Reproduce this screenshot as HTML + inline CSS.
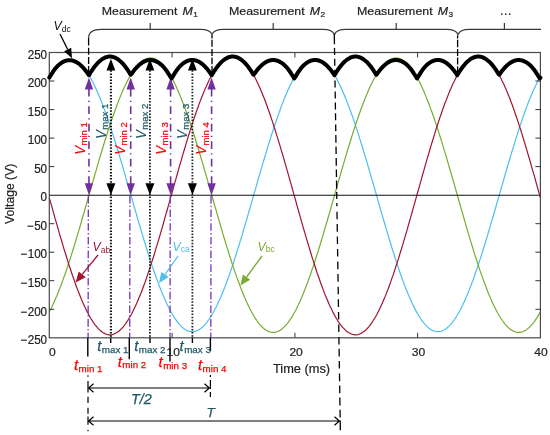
<!DOCTYPE html>
<html lang="en">
<head>
<meta charset="utf-8">
<title>Three-phase voltage measurement</title>
<style>
html,body{margin:0;padding:0;background:#fff;}
body{width:550px;height:435px;overflow:hidden;}
svg{display:block;font-family:"Liberation Sans", Arial, Helvetica, sans-serif;}
.ax{fill:#222;stroke:#222;stroke-width:0.2px;}
.red{fill:#ff0000;stroke:#ff0000;stroke-width:0.25px;}
.teal{fill:#215968;stroke:#215968;stroke-width:0.25px;}
</style>
</head>
<body>
<svg width="550" height="435" viewBox="0 0 550 435">
<rect x="0" y="0" width="550" height="435" fill="#ffffff"/>
<defs><clipPath id="pc"><rect x="46.8" y="49.5" width="496.1" height="291.3"/></clipPath></defs>
<g fill="none" stroke-width="1.2" stroke-linejoin="round">
<path d="M49.3,77.0 L50.5,75.0 L51.8,73.1 L53.0,71.2 L54.2,69.5 L55.4,67.9 L56.7,66.4 L57.9,65.2 L59.1,64.0 L60.3,63.1 L61.6,62.2 L62.8,61.5 L64.0,60.9 L65.3,60.4 L66.5,60.0 L67.7,59.8 L68.9,59.6 L70.2,59.6 L71.4,59.8 L72.6,60.0 L73.9,60.4 L75.1,60.9 L76.3,61.5 L77.5,62.2 L78.8,63.1 L80.0,64.1 L81.2,65.2 L82.4,66.4 L83.7,67.7 L84.9,69.1 L86.1,70.8 L87.4,72.6 L88.6,74.5 L89.8,76.6 L91.0,78.8 L92.3,81.1 L93.5,83.5 L94.7,86.0 L96.0,88.7 L97.2,91.4 L98.4,94.3 L99.6,97.2 L100.9,100.2 L102.1,103.4 L103.3,106.6 L104.5,109.9 L105.8,113.3 L107.0,116.8 L108.2,120.3 L109.5,123.9 L110.7,127.6 L111.9,131.4 L113.1,135.2 L114.4,139.1 L115.6,143.0 L116.8,147.0 L118.1,151.1 L119.3,155.1 L120.5,159.3 L121.7,163.4 L123.0,167.6 L124.2,171.8 L125.4,176.1 L126.6,180.3 L127.9,184.6 L129.1,188.9 L130.3,193.1 L131.6,197.4 L132.8,201.7 L134.0,206.0 L135.2,210.3 L136.5,214.5 L137.7,218.8 L138.9,223.0 L140.2,227.2 L141.4,231.3 L142.6,235.4 L143.8,239.5 L145.1,243.5 L146.3,247.5 L147.5,251.5 L148.7,255.3 L150.0,259.2 L151.2,262.9 L152.4,266.6 L153.7,270.2 L154.9,273.8 L156.1,277.2 L157.3,280.6 L158.6,283.9 L159.8,287.2 L161.0,290.3 L162.3,293.3 L163.5,296.2 L164.7,299.1 L165.9,301.8 L167.2,304.4 L168.4,306.9 L169.6,309.4 L170.8,311.6 L172.1,313.8 L173.3,315.9 L174.5,317.8 L175.8,319.7 L177.0,321.4 L178.2,322.9 L179.4,324.4 L180.7,325.7 L181.9,326.9 L183.1,328.0 L184.4,328.9 L185.6,329.7 L186.8,330.4 L188.0,330.9 L189.3,331.3 L190.5,331.5 L191.7,331.7 L192.9,331.7 L194.2,331.5 L195.4,331.3 L196.6,330.9 L197.9,330.3 L199.1,329.6 L200.3,328.8 L201.5,327.9 L202.8,326.8 L204.0,325.6 L205.2,324.3 L206.5,322.8 L207.7,321.2 L208.9,319.5 L210.1,317.7 L211.4,315.8 L212.6,313.7 L213.8,311.5 L215.0,309.2 L216.3,306.8 L217.5,304.3 L218.7,301.6 L220.0,298.9 L221.2,296.0 L222.4,293.1 L223.6,290.1 L224.9,286.9 L226.1,283.7 L227.3,280.4 L228.6,277.0 L229.8,273.5 L231.0,270.0 L232.2,266.4 L233.5,262.7 L234.7,258.9 L235.9,255.1 L237.1,251.2 L238.4,247.3 L239.6,243.3 L240.8,239.2 L242.1,235.2 L243.3,231.0 L244.5,226.9 L245.7,222.7 L247.0,218.5 L248.2,214.2 L249.4,210.0 L250.7,205.7 L251.9,201.4 L253.1,197.2 L254.3,192.9 L255.6,188.6 L256.8,184.3 L258.0,180.0 L259.2,175.8 L260.5,171.5 L261.7,167.3 L262.9,163.1 L264.2,159.0 L265.4,154.9 L266.6,150.8 L267.8,146.8 L269.1,142.8 L270.3,138.8 L271.5,135.0 L272.8,131.1 L274.0,127.4 L275.2,123.7 L276.4,120.1 L277.7,116.5 L278.9,113.1 L280.1,109.7 L281.3,106.4 L282.6,103.1 L283.8,100.0 L285.0,97.0 L286.3,94.1 L287.5,91.2 L288.7,88.5 L289.9,85.9 L291.2,83.4 L292.4,80.9 L293.6,78.7 L294.9,77.0 L296.1,75.0 L297.3,73.0 L298.5,71.1 L299.8,69.4 L301.0,67.8 L302.2,66.3 L303.4,65.0 L304.7,63.9 L305.9,62.9 L307.1,62.0 L308.4,61.3 L309.6,60.6 L310.8,60.2 L312.0,59.8 L313.3,59.5 L314.5,59.4 L315.7,59.4 L316.9,59.6 L318.2,59.8 L319.4,60.2 L320.6,60.7 L321.9,61.3 L323.1,62.1 L324.3,62.9 L325.5,63.9 L326.8,65.0 L328.0,66.2 L329.2,67.6 L330.5,69.1 L331.7,70.8 L332.9,72.6 L334.1,74.5 L335.4,76.6 L336.6,78.8 L337.8,81.1 L339.0,83.5 L340.3,86.0 L341.5,88.7 L342.7,91.4 L344.0,94.3 L345.2,97.2 L346.4,100.2 L347.6,103.4 L348.9,106.6 L350.1,109.9 L351.3,113.3 L352.6,116.8 L353.8,120.3 L355.0,123.9 L356.2,127.6 L357.5,131.4 L358.7,135.2 L359.9,139.1 L361.1,143.0 L362.4,147.0 L363.6,151.1 L364.8,155.1 L366.1,159.3 L367.3,163.4 L368.5,167.6 L369.7,171.8 L371.0,176.1 L372.2,180.3 L373.4,184.6 L374.7,188.9 L375.9,193.1 L377.1,197.4 L378.3,201.7 L379.6,206.0 L380.8,210.3 L382.0,214.5 L383.2,218.8 L384.5,223.0 L385.7,227.2 L386.9,231.3 L388.2,235.4 L389.4,239.5 L390.6,243.5 L391.8,247.5 L393.1,251.5 L394.3,255.3 L395.5,259.2 L396.8,262.9 L398.0,266.6 L399.2,270.2 L400.4,273.8 L401.7,277.2 L402.9,280.6 L404.1,283.9 L405.3,287.2 L406.6,290.3 L407.8,293.3 L409.0,296.2 L410.3,299.1 L411.5,301.8 L412.7,304.4 L413.9,306.9 L415.2,309.4 L416.4,311.6 L417.6,313.8 L418.9,315.9 L420.1,317.8 L421.3,319.7 L422.5,321.4 L423.8,322.9 L425.0,324.4 L426.2,325.7 L427.4,326.9 L428.7,328.0 L429.9,328.9 L431.1,329.7 L432.4,330.4 L433.6,330.9 L434.8,331.3 L436.0,331.5 L437.3,331.7 L438.5,331.7 L439.7,331.5 L441.0,331.3 L442.2,330.9 L443.4,330.3 L444.6,329.6 L445.9,328.8 L447.1,327.9 L448.3,326.8 L449.5,325.6 L450.8,324.3 L452.0,322.8 L453.2,321.2 L454.5,319.5 L455.7,317.7 L456.9,315.8 L458.1,313.7 L459.4,311.5 L460.6,309.2 L461.8,306.8 L463.1,304.3 L464.3,301.6 L465.5,298.9 L466.7,296.0 L468.0,293.1 L469.2,290.1 L470.4,286.9 L471.6,283.7 L472.9,280.4 L474.1,277.0 L475.3,273.5 L476.6,270.0 L477.8,266.4 L479.0,262.7 L480.2,258.9 L481.5,255.1 L482.7,251.2 L483.9,247.3 L485.2,243.3 L486.4,239.2 L487.6,235.2 L488.8,231.0 L490.1,226.9 L491.3,222.7 L492.5,218.5 L493.7,214.2 L495.0,210.0 L496.2,205.7 L497.4,201.4 L498.7,197.2 L499.9,192.9 L501.1,188.6 L502.3,184.3 L503.6,180.0 L504.8,175.8 L506.0,171.5 L507.3,167.3 L508.5,163.1 L509.7,159.0 L510.9,154.9 L512.2,150.8 L513.4,146.8 L514.6,142.8 L515.8,138.8 L517.1,135.0 L518.3,131.1 L519.5,127.4 L520.8,123.7 L522.0,120.1 L523.2,116.5 L524.4,113.1 L525.7,109.7 L526.9,106.4 L528.1,103.1 L529.4,100.0 L530.6,97.0 L531.8,94.1 L533.0,91.2 L534.3,88.5 L535.5,85.9 L536.7,83.4 L537.9,80.9 L539.2,78.7 L540.4,77.0" stroke="#4dbeee"/>
<path d="M49.3,311.8 L50.5,309.5 L51.8,307.0 L53.0,304.5 L54.2,301.8 L55.4,299.0 L56.7,296.2 L57.9,293.2 L59.1,290.1 L60.3,287.0 L61.6,283.7 L62.8,280.4 L64.0,277.0 L65.3,273.5 L66.5,269.9 L67.7,266.2 L68.9,262.5 L70.2,258.7 L71.4,254.9 L72.6,251.0 L73.9,247.0 L75.1,243.0 L76.3,238.9 L77.5,234.8 L78.8,230.7 L80.0,226.5 L81.2,222.3 L82.4,218.0 L83.7,213.8 L84.9,209.5 L86.1,205.2 L87.4,200.9 L88.6,196.6 L89.8,192.3 L91.0,188.0 L92.3,183.7 L93.5,179.4 L94.7,175.1 L96.0,170.8 L97.2,166.6 L98.4,162.4 L99.6,158.2 L100.9,154.1 L102.1,150.0 L103.3,146.0 L104.5,142.0 L105.8,138.0 L107.0,134.1 L108.2,130.3 L109.5,126.5 L110.7,122.8 L111.9,119.2 L113.1,115.7 L114.4,112.2 L115.6,108.8 L116.8,105.5 L118.1,102.3 L119.3,99.1 L120.5,96.1 L121.7,93.2 L123.0,90.3 L124.2,87.6 L125.4,85.0 L126.6,82.5 L127.9,80.1 L129.1,77.8 L130.3,75.6 L131.6,73.5 L132.8,71.6 L134.0,69.8 L135.2,68.1 L136.5,66.5 L137.7,65.1 L138.9,63.8 L140.2,62.6 L141.4,61.5 L142.6,60.6 L143.8,59.8 L145.1,59.2 L146.3,58.7 L147.5,58.3 L148.7,58.0 L150.0,57.9 L151.2,58.0 L152.4,58.1 L153.7,58.4 L154.9,58.8 L156.1,59.4 L157.3,60.1 L158.6,60.9 L159.8,61.9 L161.0,63.0 L162.3,64.2 L163.5,65.6 L164.7,67.0 L165.9,68.6 L167.2,70.4 L168.4,72.2 L169.6,74.2 L170.8,76.3 L172.1,78.5 L173.3,80.8 L174.5,83.3 L175.8,85.8 L177.0,88.5 L178.2,91.3 L179.4,94.1 L180.7,97.1 L181.9,100.2 L183.1,103.3 L184.4,106.6 L185.6,109.9 L186.8,113.3 L188.0,116.8 L189.3,120.4 L190.5,124.1 L191.7,127.8 L192.9,131.6 L194.2,135.4 L195.4,139.3 L196.6,143.3 L197.9,147.3 L199.1,151.4 L200.3,155.5 L201.5,159.6 L202.8,163.8 L204.0,168.0 L205.2,172.3 L206.5,176.5 L207.7,180.8 L208.9,185.1 L210.1,189.4 L211.4,193.7 L212.6,198.0 L213.8,202.3 L215.0,206.6 L216.3,210.9 L217.5,215.2 L218.7,219.5 L220.0,223.7 L221.2,227.9 L222.4,232.1 L223.6,236.2 L224.9,240.3 L226.1,244.3 L227.3,248.3 L228.6,252.3 L229.8,256.2 L231.0,260.0 L232.2,263.8 L233.5,267.5 L234.7,271.1 L235.9,274.6 L237.1,278.1 L238.4,281.5 L239.6,284.8 L240.8,288.0 L242.1,291.2 L243.3,294.2 L244.5,297.1 L245.7,300.0 L247.0,302.7 L248.2,305.3 L249.4,307.8 L250.7,310.2 L251.9,312.5 L253.1,314.7 L254.3,316.8 L255.6,318.7 L256.8,320.5 L258.0,322.2 L259.2,323.8 L260.5,325.2 L261.7,326.5 L262.9,327.7 L264.2,328.8 L265.4,329.7 L266.6,330.5 L267.8,331.1 L269.1,331.6 L270.3,332.0 L271.5,332.3 L272.8,332.4 L274.0,332.3 L275.2,332.2 L276.4,331.9 L277.7,331.5 L278.9,330.9 L280.1,330.2 L281.3,329.4 L282.6,328.4 L283.8,327.3 L285.0,326.1 L286.3,324.7 L287.5,323.3 L288.7,321.7 L289.9,319.9 L291.2,318.1 L292.4,316.1 L293.6,314.0 L294.9,311.8 L296.1,309.5 L297.3,307.0 L298.5,304.5 L299.8,301.8 L301.0,299.0 L302.2,296.2 L303.4,293.2 L304.7,290.1 L305.9,287.0 L307.1,283.7 L308.4,280.4 L309.6,277.0 L310.8,273.5 L312.0,269.9 L313.3,266.2 L314.5,262.5 L315.7,258.7 L316.9,254.9 L318.2,251.0 L319.4,247.0 L320.6,243.0 L321.9,238.9 L323.1,234.8 L324.3,230.7 L325.5,226.5 L326.8,222.3 L328.0,218.0 L329.2,213.8 L330.5,209.5 L331.7,205.2 L332.9,200.9 L334.1,196.6 L335.4,192.3 L336.6,188.0 L337.8,183.7 L339.0,179.4 L340.3,175.1 L341.5,170.8 L342.7,166.6 L344.0,162.4 L345.2,158.2 L346.4,154.1 L347.6,150.0 L348.9,146.0 L350.1,142.0 L351.3,138.0 L352.6,134.1 L353.8,130.3 L355.0,126.5 L356.2,122.8 L357.5,119.2 L358.7,115.7 L359.9,112.2 L361.1,108.8 L362.4,105.5 L363.6,102.3 L364.8,99.1 L366.1,96.1 L367.3,93.2 L368.5,90.3 L369.7,87.6 L371.0,85.0 L372.2,82.5 L373.4,80.1 L374.7,77.8 L375.9,75.6 L377.1,73.5 L378.3,71.6 L379.6,69.8 L380.8,68.1 L382.0,66.5 L383.2,65.1 L384.5,63.8 L385.7,62.6 L386.9,61.5 L388.2,60.6 L389.4,59.8 L390.6,59.2 L391.8,58.7 L393.1,58.3 L394.3,58.0 L395.5,57.9 L396.8,58.0 L398.0,58.1 L399.2,58.4 L400.4,58.8 L401.7,59.4 L402.9,60.1 L404.1,60.9 L405.3,61.9 L406.6,63.0 L407.8,64.2 L409.0,65.6 L410.3,67.0 L411.5,68.6 L412.7,70.4 L413.9,72.2 L415.2,74.2 L416.4,76.3 L417.6,78.5 L418.9,80.8 L420.1,83.3 L421.3,85.8 L422.5,88.5 L423.8,91.3 L425.0,94.1 L426.2,97.1 L427.4,100.2 L428.7,103.3 L429.9,106.6 L431.1,109.9 L432.4,113.3 L433.6,116.8 L434.8,120.4 L436.0,124.1 L437.3,127.8 L438.5,131.6 L439.7,135.4 L441.0,139.3 L442.2,143.3 L443.4,147.3 L444.6,151.4 L445.9,155.5 L447.1,159.6 L448.3,163.8 L449.5,168.0 L450.8,172.3 L452.0,176.5 L453.2,180.8 L454.5,185.1 L455.7,189.4 L456.9,193.7 L458.1,198.0 L459.4,202.3 L460.6,206.6 L461.8,210.9 L463.1,215.2 L464.3,219.5 L465.5,223.7 L466.7,227.9 L468.0,232.1 L469.2,236.2 L470.4,240.3 L471.6,244.3 L472.9,248.3 L474.1,252.3 L475.3,256.2 L476.6,260.0 L477.8,263.8 L479.0,267.5 L480.2,271.1 L481.5,274.6 L482.7,278.1 L483.9,281.5 L485.2,284.8 L486.4,288.0 L487.6,291.2 L488.8,294.2 L490.1,297.1 L491.3,300.0 L492.5,302.7 L493.7,305.3 L495.0,307.8 L496.2,310.2 L497.4,312.5 L498.7,314.7 L499.9,316.8 L501.1,318.7 L502.3,320.5 L503.6,322.2 L504.8,323.8 L506.0,325.2 L507.3,326.5 L508.5,327.7 L509.7,328.8 L510.9,329.7 L512.2,330.5 L513.4,331.1 L514.6,331.6 L515.8,332.0 L517.1,332.3 L518.3,332.4 L519.5,332.3 L520.8,332.2 L522.0,331.9 L523.2,331.5 L524.4,330.9 L525.7,330.2 L526.9,329.4 L528.1,328.4 L529.4,327.3 L530.6,326.1 L531.8,324.7 L533.0,323.3 L534.3,321.7 L535.5,319.9 L536.7,318.1 L537.9,316.1 L539.2,314.0 L540.4,311.8" stroke="#77ac30"/>
<path d="M49.3,197.8 L50.5,202.2 L51.8,206.5 L53.0,210.9 L54.2,215.3 L55.4,219.6 L56.7,223.9 L57.9,228.2 L59.1,232.4 L60.3,236.6 L61.6,240.8 L62.8,244.9 L64.0,249.0 L65.3,253.0 L66.5,257.0 L67.7,260.9 L68.9,264.7 L70.2,268.5 L71.4,272.2 L72.6,275.8 L73.9,279.3 L75.1,282.8 L76.3,286.2 L77.5,289.4 L78.8,292.6 L80.0,295.7 L81.2,298.7 L82.4,301.6 L83.7,304.4 L84.9,307.1 L86.1,309.6 L87.4,312.1 L88.6,314.4 L89.8,316.7 L91.0,318.8 L92.3,320.7 L93.5,322.6 L94.7,324.3 L96.0,325.9 L97.2,327.4 L98.4,328.7 L99.6,329.9 L100.9,331.0 L102.1,332.0 L103.3,332.8 L104.5,333.4 L105.8,334.0 L107.0,334.4 L108.2,334.6 L109.5,334.8 L110.7,334.8 L111.9,334.6 L113.1,334.3 L114.4,333.9 L115.6,333.3 L116.8,332.6 L118.1,331.8 L119.3,330.8 L120.5,329.7 L121.7,328.5 L123.0,327.1 L124.2,325.6 L125.4,324.0 L126.6,322.2 L127.9,320.3 L129.1,318.3 L130.3,316.2 L131.6,314.0 L132.8,311.6 L134.0,309.1 L135.2,306.5 L136.5,303.8 L137.7,301.0 L138.9,298.1 L140.2,295.1 L141.4,292.0 L142.6,288.8 L143.8,285.5 L145.1,282.1 L146.3,278.6 L147.5,275.1 L148.7,271.4 L150.0,267.7 L151.2,263.9 L152.4,260.1 L153.7,256.2 L154.9,252.2 L156.1,248.2 L157.3,244.1 L158.6,240.0 L159.8,235.8 L161.0,231.6 L162.3,227.3 L163.5,223.0 L164.7,218.7 L165.9,214.4 L167.2,210.0 L168.4,205.7 L169.6,201.3 L170.8,196.9 L172.1,192.5 L173.3,188.1 L174.5,183.8 L175.8,179.4 L177.0,175.0 L178.2,170.7 L179.4,166.4 L180.7,162.1 L181.9,157.9 L183.1,153.7 L184.4,149.5 L185.6,145.4 L186.8,141.3 L188.0,137.3 L189.3,133.3 L190.5,129.4 L191.7,125.6 L192.9,121.8 L194.2,118.1 L195.4,114.5 L196.6,111.0 L197.9,107.5 L199.1,104.1 L200.3,100.9 L201.5,97.7 L202.8,94.6 L204.0,91.6 L205.2,88.7 L206.5,85.9 L207.7,83.2 L208.9,80.7 L210.1,78.2 L211.4,75.9 L212.6,73.6 L213.8,71.5 L215.0,69.6 L216.3,67.7 L217.5,66.0 L218.7,64.4 L220.0,62.9 L221.2,61.6 L222.4,60.4 L223.6,59.3 L224.9,58.3 L226.1,57.5 L227.3,56.9 L228.6,56.3 L229.8,55.9 L231.0,55.7 L232.2,55.5 L233.5,55.5 L234.7,55.7 L235.9,56.0 L237.1,56.4 L238.4,57.0 L239.6,57.7 L240.8,58.5 L242.1,59.5 L243.3,60.6 L244.5,61.8 L245.7,63.2 L247.0,64.7 L248.2,66.3 L249.4,68.1 L250.7,70.0 L251.9,72.0 L253.1,74.1 L254.3,76.3 L255.6,78.7 L256.8,81.2 L258.0,83.8 L259.2,86.5 L260.5,89.3 L261.7,92.2 L262.9,95.2 L264.2,98.3 L265.4,101.5 L266.6,104.8 L267.8,108.2 L269.1,111.7 L270.3,115.2 L271.5,118.9 L272.8,122.6 L274.0,126.4 L275.2,130.2 L276.4,134.1 L277.7,138.1 L278.9,142.1 L280.1,146.2 L281.3,150.3 L282.6,154.5 L283.8,158.7 L285.0,163.0 L286.3,167.3 L287.5,171.6 L288.7,175.9 L289.9,180.3 L291.2,184.6 L292.4,189.0 L293.6,193.4 L294.9,197.8 L296.1,202.2 L297.3,206.5 L298.5,210.9 L299.8,215.3 L301.0,219.6 L302.2,223.9 L303.4,228.2 L304.7,232.4 L305.9,236.6 L307.1,240.8 L308.4,244.9 L309.6,249.0 L310.8,253.0 L312.0,257.0 L313.3,260.9 L314.5,264.7 L315.7,268.5 L316.9,272.2 L318.2,275.8 L319.4,279.3 L320.6,282.8 L321.9,286.2 L323.1,289.4 L324.3,292.6 L325.5,295.7 L326.8,298.7 L328.0,301.6 L329.2,304.4 L330.5,307.1 L331.7,309.6 L332.9,312.1 L334.1,314.4 L335.4,316.7 L336.6,318.8 L337.8,320.7 L339.0,322.6 L340.3,324.3 L341.5,325.9 L342.7,327.4 L344.0,328.7 L345.2,329.9 L346.4,331.0 L347.6,332.0 L348.9,332.8 L350.1,333.4 L351.3,334.0 L352.6,334.4 L353.8,334.6 L355.0,334.8 L356.2,334.8 L357.5,334.6 L358.7,334.3 L359.9,333.9 L361.1,333.3 L362.4,332.6 L363.6,331.8 L364.8,330.8 L366.1,329.7 L367.3,328.5 L368.5,327.1 L369.7,325.6 L371.0,324.0 L372.2,322.2 L373.4,320.3 L374.7,318.3 L375.9,316.2 L377.1,314.0 L378.3,311.6 L379.6,309.1 L380.8,306.5 L382.0,303.8 L383.2,301.0 L384.5,298.1 L385.7,295.1 L386.9,292.0 L388.2,288.8 L389.4,285.5 L390.6,282.1 L391.8,278.6 L393.1,275.1 L394.3,271.4 L395.5,267.7 L396.8,263.9 L398.0,260.1 L399.2,256.2 L400.4,252.2 L401.7,248.2 L402.9,244.1 L404.1,240.0 L405.3,235.8 L406.6,231.6 L407.8,227.3 L409.0,223.0 L410.3,218.7 L411.5,214.4 L412.7,210.0 L413.9,205.7 L415.2,201.3 L416.4,196.9 L417.6,192.5 L418.9,188.1 L420.1,183.8 L421.3,179.4 L422.5,175.0 L423.8,170.7 L425.0,166.4 L426.2,162.1 L427.4,157.9 L428.7,153.7 L429.9,149.5 L431.1,145.4 L432.4,141.3 L433.6,137.3 L434.8,133.3 L436.0,129.4 L437.3,125.6 L438.5,121.8 L439.7,118.1 L441.0,114.5 L442.2,111.0 L443.4,107.5 L444.6,104.1 L445.9,100.9 L447.1,97.7 L448.3,94.6 L449.5,91.6 L450.8,88.7 L452.0,85.9 L453.2,83.2 L454.5,80.7 L455.7,78.2 L456.9,75.9 L458.1,73.6 L459.4,71.5 L460.6,69.6 L461.8,67.7 L463.1,66.0 L464.3,64.4 L465.5,62.9 L466.7,61.6 L468.0,60.4 L469.2,59.3 L470.4,58.3 L471.6,57.5 L472.9,56.9 L474.1,56.3 L475.3,55.9 L476.6,55.7 L477.8,55.5 L479.0,55.5 L480.2,55.7 L481.5,56.0 L482.7,56.4 L483.9,57.0 L485.2,57.7 L486.4,58.5 L487.6,59.5 L488.8,60.6 L490.1,61.8 L491.3,63.2 L492.5,64.7 L493.7,66.3 L495.0,68.1 L496.2,70.0 L497.4,72.0 L498.7,74.1 L499.9,76.3 L501.1,78.7 L502.3,81.2 L503.6,83.8 L504.8,86.5 L506.0,89.3 L507.3,92.2 L508.5,95.2 L509.7,98.3 L510.9,101.5 L512.2,104.8 L513.4,108.2 L514.6,111.7 L515.8,115.2 L517.1,118.9 L518.3,122.6 L519.5,126.4 L520.8,130.2 L522.0,134.1 L523.2,138.1 L524.4,142.1 L525.7,146.2 L526.9,150.3 L528.1,154.5 L529.4,158.7 L530.6,163.0 L531.8,167.3 L533.0,171.6 L534.3,175.9 L535.5,180.3 L536.7,184.6 L537.9,189.0 L539.2,193.4 L540.4,197.8" stroke="#a2142f"/>
</g>
<line x1="49.3" y1="195.2" x2="540.4" y2="195.2" stroke="#111" stroke-width="1.1"/>
<rect x="49.3" y="52.5" width="491.1" height="285.3" fill="none" stroke="#4a4a4a" stroke-width="1.2"/>
<path d="M172.1,337.8 v-5 M172.1,52.5 v5 M294.9,337.8 v-5 M294.9,52.5 v5 M417.6,337.8 v-5 M417.6,52.5 v5 M49.3,309.3 h5 M540.4,309.3 h-5 M49.3,280.7 h5 M540.4,280.7 h-5 M49.3,252.2 h5 M540.4,252.2 h-5 M49.3,223.7 h5 M540.4,223.7 h-5 M49.3,166.6 h5 M540.4,166.6 h-5 M49.3,138.1 h5 M540.4,138.1 h-5 M49.3,109.6 h5 M540.4,109.6 h-5 M49.3,81.0 h5 M540.4,81.0 h-5" stroke="#333" stroke-width="1" fill="none"/>
<line x1="88.95" y1="88.7" x2="88.95" y2="184.0" stroke="#7030a0" stroke-width="1.6" stroke-dasharray="7.8 4.2 1.3 4.2"/>
<line x1="88.35" y1="195.8" x2="88.10" y2="337.8" stroke="#7434b8" stroke-width="1.3" stroke-dasharray="7.6 2.3 1.3 2.5"/>
<polygon points="88.95,77.6 84.75,89.6 93.15,89.6" fill="#7030a0"/>
<polygon points="88.95,195 84.75,183.2 93.15,183.2" fill="#7030a0"/>
<line x1="130.70" y1="88.7" x2="130.70" y2="184.0" stroke="#7030a0" stroke-width="1.6" stroke-dasharray="7.8 4.2 1.3 4.2"/>
<line x1="129.95" y1="195.8" x2="129.70" y2="337.8" stroke="#7434b8" stroke-width="1.3" stroke-dasharray="7.6 2.3 1.3 2.5"/>
<polygon points="130.70,77.6 126.50,89.6 134.90,89.6" fill="#7030a0"/>
<polygon points="130.70,195 126.50,183.2 134.90,183.2" fill="#7030a0"/>
<line x1="170.60" y1="88.7" x2="170.60" y2="184.0" stroke="#7030a0" stroke-width="1.6" stroke-dasharray="7.8 4.2 1.3 4.2"/>
<line x1="170.25" y1="195.8" x2="170.00" y2="337.8" stroke="#7434b8" stroke-width="1.3" stroke-dasharray="7.6 2.3 1.3 2.5"/>
<polygon points="170.60,77.6 166.40,89.6 174.80,89.6" fill="#7030a0"/>
<polygon points="170.60,195 166.40,183.2 174.80,183.2" fill="#7030a0"/>
<line x1="211.60" y1="88.7" x2="211.60" y2="184.0" stroke="#7030a0" stroke-width="1.6" stroke-dasharray="7.8 4.2 1.3 4.2"/>
<line x1="211.05" y1="195.8" x2="210.80" y2="337.8" stroke="#7434b8" stroke-width="1.3" stroke-dasharray="7.6 2.3 1.3 2.5"/>
<polygon points="211.60,77.6 207.40,89.6 215.80,89.6" fill="#7030a0"/>
<polygon points="211.60,195 207.40,183.2 215.80,183.2" fill="#7030a0"/>
<line x1="110.90" y1="70.3" x2="110.90" y2="337.8" stroke="#000" stroke-width="2.1" stroke-dasharray="1.5 1.58"/>
<line x1="110.90" y1="71.0" x2="110.90" y2="336.8" stroke="#fff" stroke-opacity="0.3" stroke-width="0.5"/>
<polygon points="110.90,58.8 106.50,70.6 115.30,70.6" fill="#000"/>
<polygon points="110.90,195 106.40,183.3 115.40,183.3" fill="#000"/>
<line x1="149.90" y1="70.3" x2="149.90" y2="337.8" stroke="#000" stroke-width="1.8" stroke-dasharray="1.5 1.58"/>
<line x1="149.90" y1="71.0" x2="149.90" y2="336.8" stroke="#fff" stroke-opacity="0.3" stroke-width="0.5"/>
<polygon points="149.90,58.8 145.50,70.6 154.30,70.6" fill="#000"/>
<polygon points="149.90,195 145.40,183.3 154.40,183.3" fill="#000"/>
<line x1="192.40" y1="70.3" x2="192.40" y2="337.8" stroke="#000" stroke-width="1.7" stroke-dasharray="1.5 1.58"/>
<line x1="192.40" y1="71.0" x2="192.40" y2="336.8" stroke="#fff" stroke-opacity="0.3" stroke-width="0.5"/>
<polygon points="192.40,58.8 188.00,70.6 196.80,70.6" fill="#000"/>
<polygon points="192.40,195 187.90,183.3 196.90,183.3" fill="#000"/>
<path d="M49.3,77.6 L49.6,77.1 L49.9,76.6 L50.2,76.1 L50.5,75.6 L50.8,75.1 L51.1,74.6 L51.4,74.1 L51.8,73.7 L52.1,73.2 L52.4,72.7 L52.7,72.2 L53.0,71.8 L53.3,71.3 L53.6,70.9 L53.9,70.5 L54.2,70.0 L54.5,69.6 L54.8,69.2 L55.1,68.8 L55.4,68.4 L55.7,68.1 L56.1,67.7 L56.4,67.3 L56.7,67.0 L57.0,66.7 L57.3,66.3 L57.6,66.0 L57.9,65.7 L58.2,65.4 L58.5,65.2 L58.8,64.9 L59.1,64.6 L59.4,64.3 L59.7,64.1 L60.0,63.9 L60.3,63.6 L60.7,63.4 L61.0,63.2 L61.3,63.0 L61.6,62.8 L61.9,62.6 L62.2,62.4 L62.5,62.2 L62.8,62.0 L63.1,61.9 L63.4,61.7 L63.7,61.6 L64.0,61.4 L64.3,61.3 L64.6,61.2 L65.0,61.0 L65.3,60.9 L65.6,60.8 L65.9,60.7 L66.2,60.7 L66.5,60.6 L66.8,60.5 L67.1,60.4 L67.4,60.4 L67.7,60.3 L68.0,60.3 L68.3,60.3 L68.6,60.2 L68.9,60.2 L69.3,60.2 L69.6,60.2 L69.9,60.2 L70.2,60.2 L70.5,60.2 L70.8,60.3 L71.1,60.3 L71.4,60.3 L71.7,60.4 L72.0,60.5 L72.3,60.5 L72.6,60.6 L72.9,60.7 L73.2,60.8 L73.5,60.9 L73.9,61.0 L74.2,61.1 L74.5,61.2 L74.8,61.3 L75.1,61.5 L75.4,61.6 L75.7,61.8 L76.0,61.9 L76.3,62.1 L76.6,62.2 L76.9,62.4 L77.2,62.6 L77.5,62.8 L77.8,63.0 L78.2,63.2 L78.5,63.4 L78.8,63.7 L79.1,63.9 L79.4,64.1 L79.7,64.4 L80.0,64.6 L80.3,64.9 L80.6,65.2 L80.9,65.5 L81.2,65.7 L81.5,66.0 L81.8,66.3 L82.1,66.6 L82.4,66.9 L82.8,67.3 L83.1,67.6 L83.4,67.9 L83.7,68.3 L84.0,68.6 L84.3,69.0 L84.6,69.3 L84.9,69.7 L85.2,70.1 L85.5,70.5 L85.8,70.9 L86.1,71.3 L86.4,71.7 L86.7,72.1 L87.1,72.5 L87.4,72.9 L87.7,73.4 L88.0,73.8 L88.3,74.3 L88.6,74.7 L88.9,75.2 L89.2,74.9 L89.5,74.4 L89.8,73.8 L90.1,73.3 L90.4,72.8 L90.7,72.3 L91.0,71.8 L91.4,71.3 L91.7,70.8 L92.0,70.4 L92.3,69.9 L92.6,69.5 L92.9,69.0 L93.2,68.6 L93.5,68.1 L93.8,67.7 L94.1,67.3 L94.4,66.9 L94.7,66.5 L95.0,66.1 L95.3,65.7 L95.6,65.3 L96.0,65.0 L96.3,64.6 L96.6,64.3 L96.9,63.9 L97.2,63.6 L97.5,63.2 L97.8,62.9 L98.1,62.6 L98.4,62.3 L98.7,62.0 L99.0,61.7 L99.3,61.4 L99.6,61.1 L99.9,60.9 L100.3,60.6 L100.6,60.4 L100.9,60.1 L101.2,59.9 L101.5,59.7 L101.8,59.4 L102.1,59.2 L102.4,59.0 L102.7,58.8 L103.0,58.6 L103.3,58.5 L103.6,58.3 L103.9,58.1 L104.2,58.0 L104.5,57.8 L104.9,57.7 L105.2,57.5 L105.5,57.4 L105.8,57.3 L106.1,57.2 L106.4,57.1 L106.7,57.0 L107.0,56.9 L107.3,56.9 L107.6,56.8 L107.9,56.7 L108.2,56.7 L108.5,56.6 L108.8,56.6 L109.2,56.6 L109.5,56.6 L109.8,56.6 L110.1,56.6 L110.4,56.6 L110.7,56.6 L111.0,56.6 L111.3,56.6 L111.6,56.7 L111.9,56.7 L112.2,56.8 L112.5,56.8 L112.8,56.9 L113.1,57.0 L113.4,57.1 L113.8,57.2 L114.1,57.3 L114.4,57.4 L114.7,57.5 L115.0,57.7 L115.3,57.8 L115.6,57.9 L115.9,58.1 L116.2,58.3 L116.5,58.4 L116.8,58.6 L117.1,58.8 L117.4,59.0 L117.7,59.2 L118.1,59.4 L118.4,59.6 L118.7,59.8 L119.0,60.1 L119.3,60.3 L119.6,60.6 L119.9,60.8 L120.2,61.1 L120.5,61.4 L120.8,61.7 L121.1,61.9 L121.4,62.2 L121.7,62.5 L122.0,62.9 L122.4,63.2 L122.7,63.5 L123.0,63.8 L123.3,64.2 L123.6,64.5 L123.9,64.9 L124.2,65.3 L124.5,65.6 L124.8,66.0 L125.1,66.4 L125.4,66.8 L125.7,67.2 L126.0,67.6 L126.3,68.1 L126.6,68.5 L127.0,68.9 L127.3,69.4 L127.6,69.8 L127.9,70.3 L128.2,70.7 L128.5,71.2 L128.8,71.7 L129.1,72.2 L129.4,72.7 L129.7,73.2 L130.0,73.7 L130.3,74.2 L130.6,74.7 L130.9,74.8 L131.3,74.3 L131.6,73.9 L131.9,73.4 L132.2,73.0 L132.5,72.6 L132.8,72.2 L133.1,71.7 L133.4,71.3 L133.7,70.9 L134.0,70.5 L134.3,70.2 L134.6,69.8 L134.9,69.4 L135.2,69.0 L135.5,68.7 L135.9,68.3 L136.2,68.0 L136.5,67.7 L136.8,67.3 L137.1,67.0 L137.4,66.7 L137.7,66.4 L138.0,66.1 L138.3,65.8 L138.6,65.5 L138.9,65.2 L139.2,64.9 L139.5,64.7 L139.8,64.4 L140.2,64.2 L140.5,63.9 L140.8,63.7 L141.1,63.5 L141.4,63.2 L141.7,63.0 L142.0,62.8 L142.3,62.6 L142.6,62.4 L142.9,62.2 L143.2,62.1 L143.5,61.9 L143.8,61.7 L144.1,61.6 L144.5,61.4 L144.8,61.3 L145.1,61.2 L145.4,61.0 L145.7,60.9 L146.0,60.8 L146.3,60.7 L146.6,60.6 L146.9,60.5 L147.2,60.4 L147.5,60.4 L147.8,60.3 L148.1,60.2 L148.4,60.2 L148.7,60.1 L149.1,60.1 L149.4,60.1 L149.7,60.1 L150.0,60.0 L150.3,60.0 L150.6,60.0 L150.9,60.0 L151.2,60.1 L151.5,60.1 L151.8,60.1 L152.1,60.2 L152.4,60.2 L152.7,60.3 L153.0,60.3 L153.4,60.4 L153.7,60.5 L154.0,60.5 L154.3,60.6 L154.6,60.7 L154.9,60.8 L155.2,61.0 L155.5,61.1 L155.8,61.2 L156.1,61.3 L156.4,61.5 L156.7,61.6 L157.0,61.8 L157.3,62.0 L157.6,62.1 L158.0,62.3 L158.3,62.5 L158.6,62.7 L158.9,62.9 L159.2,63.1 L159.5,63.3 L159.8,63.6 L160.1,63.8 L160.4,64.0 L160.7,64.3 L161.0,64.5 L161.3,64.8 L161.6,65.1 L161.9,65.4 L162.3,65.7 L162.6,66.0 L162.9,66.3 L163.2,66.6 L163.5,66.9 L163.8,67.3 L164.1,67.6 L164.4,68.0 L164.7,68.4 L165.0,68.7 L165.3,69.1 L165.6,69.5 L165.9,70.0 L166.2,70.4 L166.6,70.8 L166.9,71.2 L167.2,71.7 L167.5,72.1 L167.8,72.6 L168.1,73.1 L168.4,73.6 L168.7,74.0 L169.0,74.5 L169.3,75.0 L169.6,75.5 L169.9,76.0 L170.2,76.5 L170.5,77.0 L170.8,77.5 L171.2,78.0 L171.5,78.5 L171.8,78.1 L172.1,77.6 L172.4,77.1 L172.7,76.6 L173.0,76.1 L173.3,75.6 L173.6,75.1 L173.9,74.6 L174.2,74.1 L174.5,73.6 L174.8,73.1 L175.1,72.6 L175.5,72.2 L175.8,71.7 L176.1,71.3 L176.4,70.8 L176.7,70.4 L177.0,69.9 L177.3,69.5 L177.6,69.1 L177.9,68.7 L178.2,68.3 L178.5,67.9 L178.8,67.6 L179.1,67.2 L179.4,66.9 L179.7,66.5 L180.1,66.2 L180.4,65.9 L180.7,65.6 L181.0,65.3 L181.3,65.0 L181.6,64.7 L181.9,64.4 L182.2,64.2 L182.5,63.9 L182.8,63.7 L183.1,63.4 L183.4,63.2 L183.7,63.0 L184.0,62.8 L184.4,62.6 L184.7,62.4 L185.0,62.2 L185.3,62.0 L185.6,61.8 L185.9,61.7 L186.2,61.5 L186.5,61.4 L186.8,61.2 L187.1,61.1 L187.4,61.0 L187.7,60.8 L188.0,60.7 L188.3,60.6 L188.6,60.5 L189.0,60.4 L189.3,60.4 L189.6,60.3 L189.9,60.2 L190.2,60.2 L190.5,60.1 L190.8,60.1 L191.1,60.0 L191.4,60.0 L191.7,60.0 L192.0,60.0 L192.3,60.0 L192.6,60.0 L192.9,60.0 L193.3,60.0 L193.6,60.0 L193.9,60.1 L194.2,60.1 L194.5,60.2 L194.8,60.2 L195.1,60.3 L195.4,60.4 L195.7,60.5 L196.0,60.5 L196.3,60.6 L196.6,60.8 L196.9,60.9 L197.2,61.0 L197.6,61.1 L197.9,61.3 L198.2,61.4 L198.5,61.5 L198.8,61.7 L199.1,61.9 L199.4,62.1 L199.7,62.2 L200.0,62.4 L200.3,62.6 L200.6,62.8 L200.9,63.0 L201.2,63.3 L201.5,63.5 L201.8,63.7 L202.2,64.0 L202.5,64.2 L202.8,64.5 L203.1,64.7 L203.4,65.0 L203.7,65.3 L204.0,65.6 L204.3,65.9 L204.6,66.2 L204.9,66.5 L205.2,66.8 L205.5,67.1 L205.8,67.5 L206.1,67.8 L206.5,68.2 L206.8,68.5 L207.1,68.9 L207.4,69.2 L207.7,69.6 L208.0,70.0 L208.3,70.4 L208.6,70.8 L208.9,71.2 L209.2,71.6 L209.5,72.0 L209.8,72.5 L210.1,72.9 L210.4,73.3 L210.7,73.8 L211.1,74.2 L211.4,74.7 L211.7,75.2 L212.0,74.8 L212.3,74.3 L212.6,73.8 L212.9,73.3 L213.2,72.8 L213.5,72.3 L213.8,71.8 L214.1,71.3 L214.4,70.8 L214.7,70.4 L215.0,69.9 L215.4,69.5 L215.7,69.0 L216.0,68.6 L216.3,68.1 L216.6,67.7 L216.9,67.3 L217.2,66.9 L217.5,66.5 L217.8,66.1 L218.1,65.7 L218.4,65.3 L218.7,65.0 L219.0,64.6 L219.3,64.3 L219.7,63.9 L220.0,63.6 L220.3,63.2 L220.6,62.9 L220.9,62.6 L221.2,62.3 L221.5,62.0 L221.8,61.7 L222.1,61.4 L222.4,61.1 L222.7,60.9 L223.0,60.6 L223.3,60.4 L223.6,60.1 L223.9,59.9 L224.3,59.7 L224.6,59.4 L224.9,59.2 L225.2,59.0 L225.5,58.8 L225.8,58.6 L226.1,58.5 L226.4,58.3 L226.7,58.1 L227.0,58.0 L227.3,57.8 L227.6,57.7 L227.9,57.5 L228.2,57.4 L228.6,57.3 L228.9,57.2 L229.2,57.1 L229.5,57.0 L229.8,56.9 L230.1,56.9 L230.4,56.8 L230.7,56.7 L231.0,56.7 L231.3,56.6 L231.6,56.6 L231.9,56.6 L232.2,56.6 L232.5,56.6 L232.8,56.6 L233.2,56.6 L233.5,56.6 L233.8,56.6 L234.1,56.6 L234.4,56.7 L234.7,56.7 L235.0,56.8 L235.3,56.8 L235.6,56.9 L235.9,57.0 L236.2,57.1 L236.5,57.2 L236.8,57.3 L237.1,57.4 L237.5,57.5 L237.8,57.7 L238.1,57.8 L238.4,57.9 L238.7,58.1 L239.0,58.3 L239.3,58.4 L239.6,58.6 L239.9,58.8 L240.2,59.0 L240.5,59.2 L240.8,59.4 L241.1,59.6 L241.4,59.8 L241.7,60.1 L242.1,60.3 L242.4,60.6 L242.7,60.8 L243.0,61.1 L243.3,61.4 L243.6,61.7 L243.9,61.9 L244.2,62.2 L244.5,62.5 L244.8,62.9 L245.1,63.2 L245.4,63.5 L245.7,63.8 L246.0,64.2 L246.4,64.5 L246.7,64.9 L247.0,65.3 L247.3,65.6 L247.6,66.0 L247.9,66.4 L248.2,66.8 L248.5,67.2 L248.8,67.6 L249.1,68.1 L249.4,68.5 L249.7,68.9 L250.0,69.4 L250.3,69.8 L250.7,70.3 L251.0,70.7 L251.3,71.2 L251.6,71.7 L251.9,72.2 L252.2,72.7 L252.5,73.2 L252.8,73.7 L253.1,74.2 L253.4,74.7 L253.7,74.8 L254.0,74.3 L254.3,73.9 L254.6,73.4 L254.9,73.0 L255.3,72.6 L255.6,72.2 L255.9,71.7 L256.2,71.3 L256.5,70.9 L256.8,70.5 L257.1,70.2 L257.4,69.8 L257.7,69.4 L258.0,69.0 L258.3,68.7 L258.6,68.3 L258.9,68.0 L259.2,67.7 L259.6,67.3 L259.9,67.0 L260.2,66.7 L260.5,66.4 L260.8,66.1 L261.1,65.8 L261.4,65.5 L261.7,65.2 L262.0,64.9 L262.3,64.7 L262.6,64.4 L262.9,64.2 L263.2,63.9 L263.5,63.7 L263.8,63.5 L264.2,63.2 L264.5,63.0 L264.8,62.8 L265.1,62.6 L265.4,62.4 L265.7,62.2 L266.0,62.1 L266.3,61.9 L266.6,61.7 L266.9,61.6 L267.2,61.4 L267.5,61.3 L267.8,61.2 L268.1,61.0 L268.5,60.9 L268.8,60.8 L269.1,60.7 L269.4,60.6 L269.7,60.5 L270.0,60.4 L270.3,60.4 L270.6,60.3 L270.9,60.2 L271.2,60.2 L271.5,60.1 L271.8,60.1 L272.1,60.1 L272.4,60.1 L272.8,60.0 L273.1,60.0 L273.4,60.0 L273.7,60.0 L274.0,60.1 L274.3,60.1 L274.6,60.1 L274.9,60.2 L275.2,60.2 L275.5,60.3 L275.8,60.3 L276.1,60.4 L276.4,60.5 L276.7,60.5 L277.0,60.6 L277.4,60.7 L277.7,60.8 L278.0,61.0 L278.3,61.1 L278.6,61.2 L278.9,61.3 L279.2,61.5 L279.5,61.6 L279.8,61.8 L280.1,62.0 L280.4,62.1 L280.7,62.3 L281.0,62.5 L281.3,62.7 L281.7,62.9 L282.0,63.1 L282.3,63.3 L282.6,63.6 L282.9,63.8 L283.2,64.0 L283.5,64.3 L283.8,64.5 L284.1,64.8 L284.4,65.1 L284.7,65.4 L285.0,65.7 L285.3,66.0 L285.6,66.3 L285.9,66.6 L286.3,66.9 L286.6,67.3 L286.9,67.6 L287.2,68.0 L287.5,68.4 L287.8,68.7 L288.1,69.1 L288.4,69.5 L288.7,70.0 L289.0,70.4 L289.3,70.8 L289.6,71.2 L289.9,71.7 L290.2,72.1 L290.6,72.6 L290.9,73.1 L291.2,73.6 L291.5,74.0 L291.8,74.5 L292.1,75.0 L292.4,75.5 L292.7,76.0 L293.0,76.5 L293.3,77.0 L293.6,77.5 L293.9,78.0 L294.2,78.5 L294.5,78.1 L294.9,77.6 L295.2,77.1 L295.5,76.6 L295.8,76.1 L296.1,75.6 L296.4,75.1 L296.7,74.6 L297.0,74.1 L297.3,73.6 L297.6,73.1 L297.9,72.6 L298.2,72.2 L298.5,71.7 L298.8,71.3 L299.1,70.8 L299.5,70.4 L299.8,69.9 L300.1,69.5 L300.4,69.1 L300.7,68.7 L301.0,68.3 L301.3,67.9 L301.6,67.6 L301.9,67.2 L302.2,66.9 L302.5,66.5 L302.8,66.2 L303.1,65.9 L303.4,65.6 L303.8,65.3 L304.1,65.0 L304.4,64.7 L304.7,64.4 L305.0,64.2 L305.3,63.9 L305.6,63.7 L305.9,63.4 L306.2,63.2 L306.5,63.0 L306.8,62.8 L307.1,62.6 L307.4,62.4 L307.7,62.2 L308.0,62.0 L308.4,61.8 L308.7,61.7 L309.0,61.5 L309.3,61.4 L309.6,61.2 L309.9,61.1 L310.2,61.0 L310.5,60.8 L310.8,60.7 L311.1,60.6 L311.4,60.5 L311.7,60.4 L312.0,60.4 L312.3,60.3 L312.7,60.2 L313.0,60.2 L313.3,60.1 L313.6,60.1 L313.9,60.0 L314.2,60.0 L314.5,60.0 L314.8,60.0 L315.1,60.0 L315.4,60.0 L315.7,60.0 L316.0,60.0 L316.3,60.0 L316.6,60.1 L316.9,60.1 L317.3,60.2 L317.6,60.2 L317.9,60.3 L318.2,60.4 L318.5,60.5 L318.8,60.5 L319.1,60.6 L319.4,60.8 L319.7,60.9 L320.0,61.0 L320.3,61.1 L320.6,61.3 L320.9,61.4 L321.2,61.5 L321.6,61.7 L321.9,61.9 L322.2,62.1 L322.5,62.2 L322.8,62.4 L323.1,62.6 L323.4,62.8 L323.7,63.0 L324.0,63.3 L324.3,63.5 L324.6,63.7 L324.9,64.0 L325.2,64.2 L325.5,64.5 L325.9,64.7 L326.2,65.0 L326.5,65.3 L326.8,65.6 L327.1,65.9 L327.4,66.2 L327.7,66.5 L328.0,66.8 L328.3,67.1 L328.6,67.5 L328.9,67.8 L329.2,68.2 L329.5,68.5 L329.8,68.9 L330.1,69.2 L330.5,69.6 L330.8,70.0 L331.1,70.4 L331.4,70.8 L331.7,71.2 L332.0,71.6 L332.3,72.0 L332.6,72.5 L332.9,72.9 L333.2,73.3 L333.5,73.8 L333.8,74.2 L334.1,74.7 L334.4,75.2 L334.8,74.8 L335.1,74.3 L335.4,73.8 L335.7,73.3 L336.0,72.8 L336.3,72.3 L336.6,71.8 L336.9,71.3 L337.2,70.8 L337.5,70.4 L337.8,69.9 L338.1,69.5 L338.4,69.0 L338.7,68.6 L339.0,68.1 L339.4,67.7 L339.7,67.3 L340.0,66.9 L340.3,66.5 L340.6,66.1 L340.9,65.7 L341.2,65.3 L341.5,65.0 L341.8,64.6 L342.1,64.3 L342.4,63.9 L342.7,63.6 L343.0,63.2 L343.3,62.9 L343.7,62.6 L344.0,62.3 L344.3,62.0 L344.6,61.7 L344.9,61.4 L345.2,61.1 L345.5,60.9 L345.8,60.6 L346.1,60.4 L346.4,60.1 L346.7,59.9 L347.0,59.7 L347.3,59.4 L347.6,59.2 L348.0,59.0 L348.3,58.8 L348.6,58.6 L348.9,58.5 L349.2,58.3 L349.5,58.1 L349.8,58.0 L350.1,57.8 L350.4,57.7 L350.7,57.5 L351.0,57.4 L351.3,57.3 L351.6,57.2 L351.9,57.1 L352.2,57.0 L352.6,56.9 L352.9,56.9 L353.2,56.8 L353.5,56.7 L353.8,56.7 L354.1,56.6 L354.4,56.6 L354.7,56.6 L355.0,56.6 L355.3,56.6 L355.6,56.6 L355.9,56.6 L356.2,56.6 L356.5,56.6 L356.9,56.6 L357.2,56.7 L357.5,56.7 L357.8,56.8 L358.1,56.8 L358.4,56.9 L358.7,57.0 L359.0,57.1 L359.3,57.2 L359.6,57.3 L359.9,57.4 L360.2,57.5 L360.5,57.7 L360.8,57.8 L361.1,57.9 L361.5,58.1 L361.8,58.3 L362.1,58.4 L362.4,58.6 L362.7,58.8 L363.0,59.0 L363.3,59.2 L363.6,59.4 L363.9,59.6 L364.2,59.8 L364.5,60.1 L364.8,60.3 L365.1,60.6 L365.4,60.8 L365.8,61.1 L366.1,61.4 L366.4,61.7 L366.7,61.9 L367.0,62.2 L367.3,62.5 L367.6,62.9 L367.9,63.2 L368.2,63.5 L368.5,63.8 L368.8,64.2 L369.1,64.5 L369.4,64.9 L369.7,65.3 L370.0,65.6 L370.4,66.0 L370.7,66.4 L371.0,66.8 L371.3,67.2 L371.6,67.6 L371.9,68.1 L372.2,68.5 L372.5,68.9 L372.8,69.4 L373.1,69.8 L373.4,70.3 L373.7,70.7 L374.0,71.2 L374.3,71.7 L374.7,72.2 L375.0,72.7 L375.3,73.2 L375.6,73.7 L375.9,74.2 L376.2,74.7 L376.5,74.8 L376.8,74.3 L377.1,73.9 L377.4,73.4 L377.7,73.0 L378.0,72.6 L378.3,72.2 L378.6,71.7 L379.0,71.3 L379.3,70.9 L379.6,70.5 L379.9,70.2 L380.2,69.8 L380.5,69.4 L380.8,69.0 L381.1,68.7 L381.4,68.3 L381.7,68.0 L382.0,67.7 L382.3,67.3 L382.6,67.0 L382.9,66.7 L383.2,66.4 L383.6,66.1 L383.9,65.8 L384.2,65.5 L384.5,65.2 L384.8,64.9 L385.1,64.7 L385.4,64.4 L385.7,64.2 L386.0,63.9 L386.3,63.7 L386.6,63.5 L386.9,63.2 L387.2,63.0 L387.5,62.8 L387.9,62.6 L388.2,62.4 L388.5,62.2 L388.8,62.1 L389.1,61.9 L389.4,61.7 L389.7,61.6 L390.0,61.4 L390.3,61.3 L390.6,61.2 L390.9,61.0 L391.2,60.9 L391.5,60.8 L391.8,60.7 L392.1,60.6 L392.5,60.5 L392.8,60.4 L393.1,60.4 L393.4,60.3 L393.7,60.2 L394.0,60.2 L394.3,60.1 L394.6,60.1 L394.9,60.1 L395.2,60.1 L395.5,60.0 L395.8,60.0 L396.1,60.0 L396.4,60.0 L396.8,60.1 L397.1,60.1 L397.4,60.1 L397.7,60.2 L398.0,60.2 L398.3,60.3 L398.6,60.3 L398.9,60.4 L399.2,60.5 L399.5,60.5 L399.8,60.6 L400.1,60.7 L400.4,60.8 L400.7,61.0 L401.1,61.1 L401.4,61.2 L401.7,61.3 L402.0,61.5 L402.3,61.6 L402.6,61.8 L402.9,62.0 L403.2,62.1 L403.5,62.3 L403.8,62.5 L404.1,62.7 L404.4,62.9 L404.7,63.1 L405.0,63.3 L405.3,63.6 L405.7,63.8 L406.0,64.0 L406.3,64.3 L406.6,64.5 L406.9,64.8 L407.2,65.1 L407.5,65.4 L407.8,65.7 L408.1,66.0 L408.4,66.3 L408.7,66.6 L409.0,66.9 L409.3,67.3 L409.6,67.6 L410.0,68.0 L410.3,68.4 L410.6,68.7 L410.9,69.1 L411.2,69.5 L411.5,70.0 L411.8,70.4 L412.1,70.8 L412.4,71.2 L412.7,71.7 L413.0,72.1 L413.3,72.6 L413.6,73.1 L413.9,73.6 L414.2,74.0 L414.6,74.5 L414.9,75.0 L415.2,75.5 L415.5,76.0 L415.8,76.5 L416.1,77.0 L416.4,77.5 L416.7,78.0 L417.0,78.5 L417.3,78.1 L417.6,77.6 L417.9,77.1 L418.2,76.6 L418.5,76.1 L418.9,75.6 L419.2,75.1 L419.5,74.6 L419.8,74.1 L420.1,73.6 L420.4,73.1 L420.7,72.6 L421.0,72.2 L421.3,71.7 L421.6,71.3 L421.9,70.8 L422.2,70.4 L422.5,69.9 L422.8,69.5 L423.1,69.1 L423.5,68.7 L423.8,68.3 L424.1,67.9 L424.4,67.6 L424.7,67.2 L425.0,66.9 L425.3,66.5 L425.6,66.2 L425.9,65.9 L426.2,65.6 L426.5,65.3 L426.8,65.0 L427.1,64.7 L427.4,64.4 L427.8,64.2 L428.1,63.9 L428.4,63.7 L428.7,63.4 L429.0,63.2 L429.3,63.0 L429.6,62.8 L429.9,62.6 L430.2,62.4 L430.5,62.2 L430.8,62.0 L431.1,61.8 L431.4,61.7 L431.7,61.5 L432.1,61.4 L432.4,61.2 L432.7,61.1 L433.0,61.0 L433.3,60.8 L433.6,60.7 L433.9,60.6 L434.2,60.5 L434.5,60.4 L434.8,60.4 L435.1,60.3 L435.4,60.2 L435.7,60.2 L436.0,60.1 L436.3,60.1 L436.7,60.0 L437.0,60.0 L437.3,60.0 L437.6,60.0 L437.9,60.0 L438.2,60.0 L438.5,60.0 L438.8,60.0 L439.1,60.0 L439.4,60.1 L439.7,60.1 L440.0,60.2 L440.3,60.2 L440.6,60.3 L441.0,60.4 L441.3,60.5 L441.6,60.5 L441.9,60.6 L442.2,60.8 L442.5,60.9 L442.8,61.0 L443.1,61.1 L443.4,61.3 L443.7,61.4 L444.0,61.5 L444.3,61.7 L444.6,61.9 L444.9,62.1 L445.2,62.2 L445.6,62.4 L445.9,62.6 L446.2,62.8 L446.5,63.0 L446.8,63.3 L447.1,63.5 L447.4,63.7 L447.7,64.0 L448.0,64.2 L448.3,64.5 L448.6,64.7 L448.9,65.0 L449.2,65.3 L449.5,65.6 L449.9,65.9 L450.2,66.2 L450.5,66.5 L450.8,66.8 L451.1,67.1 L451.4,67.5 L451.7,67.8 L452.0,68.2 L452.3,68.5 L452.6,68.9 L452.9,69.2 L453.2,69.6 L453.5,70.0 L453.8,70.4 L454.2,70.8 L454.5,71.2 L454.8,71.6 L455.1,72.0 L455.4,72.5 L455.7,72.9 L456.0,73.3 L456.3,73.8 L456.6,74.2 L456.9,74.7 L457.2,75.2 L457.5,74.8 L457.8,74.3 L458.1,73.8 L458.4,73.3 L458.8,72.8 L459.1,72.3 L459.4,71.8 L459.7,71.3 L460.0,70.8 L460.3,70.4 L460.6,69.9 L460.9,69.5 L461.2,69.0 L461.5,68.6 L461.8,68.1 L462.1,67.7 L462.4,67.3 L462.7,66.9 L463.1,66.5 L463.4,66.1 L463.7,65.7 L464.0,65.3 L464.3,65.0 L464.6,64.6 L464.9,64.3 L465.2,63.9 L465.5,63.6 L465.8,63.2 L466.1,62.9 L466.4,62.6 L466.7,62.3 L467.0,62.0 L467.3,61.7 L467.7,61.4 L468.0,61.1 L468.3,60.9 L468.6,60.6 L468.9,60.4 L469.2,60.1 L469.5,59.9 L469.8,59.7 L470.1,59.4 L470.4,59.2 L470.7,59.0 L471.0,58.8 L471.3,58.6 L471.6,58.5 L472.0,58.3 L472.3,58.1 L472.6,58.0 L472.9,57.8 L473.2,57.7 L473.5,57.5 L473.8,57.4 L474.1,57.3 L474.4,57.2 L474.7,57.1 L475.0,57.0 L475.3,56.9 L475.6,56.9 L475.9,56.8 L476.3,56.7 L476.6,56.7 L476.9,56.6 L477.2,56.6 L477.5,56.6 L477.8,56.6 L478.1,56.6 L478.4,56.6 L478.7,56.6 L479.0,56.6 L479.3,56.6 L479.6,56.6 L479.9,56.7 L480.2,56.7 L480.5,56.8 L480.9,56.8 L481.2,56.9 L481.5,57.0 L481.8,57.1 L482.1,57.2 L482.4,57.3 L482.7,57.4 L483.0,57.5 L483.3,57.7 L483.6,57.8 L483.9,57.9 L484.2,58.1 L484.5,58.3 L484.8,58.4 L485.2,58.6 L485.5,58.8 L485.8,59.0 L486.1,59.2 L486.4,59.4 L486.7,59.6 L487.0,59.8 L487.3,60.1 L487.6,60.3 L487.9,60.6 L488.2,60.8 L488.5,61.1 L488.8,61.4 L489.1,61.7 L489.4,61.9 L489.8,62.2 L490.1,62.5 L490.4,62.9 L490.7,63.2 L491.0,63.5 L491.3,63.8 L491.6,64.2 L491.9,64.5 L492.2,64.9 L492.5,65.3 L492.8,65.6 L493.1,66.0 L493.4,66.4 L493.7,66.8 L494.1,67.2 L494.4,67.6 L494.7,68.1 L495.0,68.5 L495.3,68.9 L495.6,69.4 L495.9,69.8 L496.2,70.3 L496.5,70.7 L496.8,71.2 L497.1,71.7 L497.4,72.2 L497.7,72.7 L498.0,73.2 L498.3,73.7 L498.7,74.2 L499.0,74.7 L499.3,74.8 L499.6,74.3 L499.9,73.9 L500.2,73.4 L500.5,73.0 L500.8,72.6 L501.1,72.2 L501.4,71.7 L501.7,71.3 L502.0,70.9 L502.3,70.5 L502.6,70.2 L503.0,69.8 L503.3,69.4 L503.6,69.0 L503.9,68.7 L504.2,68.3 L504.5,68.0 L504.8,67.7 L505.1,67.3 L505.4,67.0 L505.7,66.7 L506.0,66.4 L506.3,66.1 L506.6,65.8 L506.9,65.5 L507.3,65.2 L507.6,64.9 L507.9,64.7 L508.2,64.4 L508.5,64.2 L508.8,63.9 L509.1,63.7 L509.4,63.5 L509.7,63.2 L510.0,63.0 L510.3,62.8 L510.6,62.6 L510.9,62.4 L511.2,62.2 L511.5,62.1 L511.9,61.9 L512.2,61.7 L512.5,61.6 L512.8,61.4 L513.1,61.3 L513.4,61.2 L513.7,61.0 L514.0,60.9 L514.3,60.8 L514.6,60.7 L514.9,60.6 L515.2,60.5 L515.5,60.4 L515.8,60.4 L516.2,60.3 L516.5,60.2 L516.8,60.2 L517.1,60.1 L517.4,60.1 L517.7,60.1 L518.0,60.1 L518.3,60.0 L518.6,60.0 L518.9,60.0 L519.2,60.0 L519.5,60.1 L519.8,60.1 L520.1,60.1 L520.4,60.2 L520.8,60.2 L521.1,60.3 L521.4,60.3 L521.7,60.4 L522.0,60.5 L522.3,60.5 L522.6,60.6 L522.9,60.7 L523.2,60.8 L523.5,61.0 L523.8,61.1 L524.1,61.2 L524.4,61.3 L524.7,61.5 L525.1,61.6 L525.4,61.8 L525.7,62.0 L526.0,62.1 L526.3,62.3 L526.6,62.5 L526.9,62.7 L527.2,62.9 L527.5,63.1 L527.8,63.3 L528.1,63.6 L528.4,63.8 L528.7,64.0 L529.0,64.3 L529.4,64.5 L529.7,64.8 L530.0,65.1 L530.3,65.4 L530.6,65.7 L530.9,66.0 L531.2,66.3 L531.5,66.6 L531.8,66.9 L532.1,67.3 L532.4,67.6 L532.7,68.0 L533.0,68.4 L533.3,68.7 L533.6,69.1 L534.0,69.5 L534.3,70.0 L534.6,70.4 L534.9,70.8 L535.2,71.2 L535.5,71.7 L535.8,72.1 L536.1,72.6 L536.4,73.1 L536.7,73.6 L537.0,74.0 L537.3,74.5 L537.6,75.0 L537.9,75.5 L538.3,76.0 L538.6,76.5 L538.9,77.0 L539.2,77.5 L539.5,78.0 L539.8,78.5 L540.1,78.1 L540.4,77.6" fill="none" stroke="#000" stroke-width="4" stroke-linejoin="round" stroke-linecap="round"/>
<path d="M88.6,37.6 C88.7,32.5 92.5,29.3 101.5,29.3 L200.5,29.3 C207.0,29.3 210.8,30.9 212.0,34.8 M150.2,29.3 V23.0 M212.0,34.8 C213.2,30.9 217.0,29.3 223.5,29.3 L322.9,29.3 C329.4,29.3 333.2,30.9 334.4,34.8 M273.2,29.3 V23.0 M334.4,34.8 C335.6,30.9 339.4,29.3 345.9,29.3 L446.5,29.3 C453.0,29.3 456.8,30.9 458.0,34.8 M396.2,29.3 V23.0 M458.0,34.8 C459.2,30.9 463.0,29.3 469.5,29.3 L541.0,29.3 M504.4,29.3 V23.0" fill="none" stroke="#3a3a3a" stroke-width="1.2"/>
<g stroke="#000" stroke-width="1.3" fill="none">
<path d="M88.6,37.4 V45.5 M88.6,47.8 V54.7 M88.6,57 V63.9 M88.6,66.1 V73"/>
<path d="M212,35 V38.6 M212,39.8 V46.8 M212,49 V55.9 M212,57.6 V64.2 M212,66 V73"/>
<path d="M334.30,34.6 L334.45,44.3 M334.50,47.9 L334.61,54.9 M334.67,58.8 L334.78,65.8 M334.84,69.7 L334.94,76.7 M335.00,80.6 L335.11,87.6 M335.17,91.5 L335.28,98.5 M335.34,102.4 L335.44,109.4 M335.50,113.3 L335.61,120.3 M335.67,124.4 L335.78,131.2 M335.83,134.9 L335.95,142.8 M336.01,146.5 L336.12,154.0 M336.18,157.9 L336.30,165.8 M336.36,169.5 L336.47,177.0 M336.53,180.5 L336.65,188.8 M336.70,191.9 L336.81,199.0 M336.87,203.0 L336.92,206.2 M337.00,211.7 L337.12,219.3 M337.19,224.1 L337.31,231.7 M337.38,236.6 L337.50,244.1 M337.57,249.0 L337.69,256.6 M337.77,261.6 L337.88,269.2 M337.96,274.1 L338.07,281.7 M338.15,286.7 L338.27,294.3 M338.34,299.3 L338.46,306.9 M338.53,311.9 L338.65,319.5 M338.73,324.4 L338.84,332.0 M338.92,337.0 L339.03,344.5 M339.10,348.8 L339.22,356.6 M339.28,360.9 L339.40,368.6 M339.48,373.5 L339.59,381.2 M339.66,385.6 L339.78,393.3 M339.84,397.6 L339.96,405.4 M340.03,409.7 L340.15,417.4 M340.19,420.6 L340.34,430.2"/>
<path d="M457.6,35.2 V38.6 M457.6,39.8 V47.2 M457.6,49 V55.9 M457.6,57.6 V64.5 M457.6,66.2 V73"/>
</g>
<g stroke="#000" stroke-width="1.4" fill="none">
<line x1="87.8" y1="337.8" x2="87.8" y2="356.5"/>
<line x1="129.3" y1="337.8" x2="129.3" y2="359.3"/>
<line x1="170" y1="337.8" x2="170" y2="361.5"/>
<line x1="210.4" y1="337.8" x2="210.4" y2="351"/>
<line x1="110.7" y1="337.8" x2="110.7" y2="343"/>
<line x1="150.0" y1="337.8" x2="150.0" y2="343"/>
<line x1="192.4" y1="337.8" x2="192.4" y2="343"/>
</g>
<g stroke="#000" stroke-width="1.2" fill="none">
<path d="M88,375.2 V376.8 M88,381 V392.4 M88,396.7 V403 M88,407.7 V413.8 M88,416.6 V424.7 M88,430 V431.2"/>
<path d="M210.4,375 V377 M210.4,380 V389 M210.4,392 V397"/>
<path d="M88.5,388 H209.5 M93.5,383.7 L88.6,388 L93.5,392.3 M204.5,383.7 L209.4,388 L204.5,392.3"/>
<path d="M88.5,421 H339.5 M93.5,416.7 L88.6,421 L93.5,425.3 M334.5,416.7 L339.4,421 L334.5,425.3"/>
</g>
<line x1="60.0" y1="34.0" x2="67.7" y2="49.5" stroke="#000" stroke-width="1.3"/>
<polygon points="72.0,58.3 64.1,51.3 71.2,47.7" fill="#000"/>
<line x1="98.0" y1="255.0" x2="82.2" y2="274.3" stroke="#a2142f" stroke-width="1.3"/>
<polygon points="75.6,282.4 78.7,271.5 85.7,277.2" fill="#a2142f"/>
<line x1="178.0" y1="256.0" x2="165.0" y2="274.5" stroke="#4dbeee" stroke-width="1.3"/>
<polygon points="159.0,283.0 161.3,271.9 168.7,277.1" fill="#4dbeee"/>
<line x1="262.0" y1="256.0" x2="246.6" y2="277.0" stroke="#77ac30" stroke-width="1.3"/>
<polygon points="240.4,285.4 242.9,274.4 250.2,279.7" fill="#77ac30"/>
<text transform="translate(101.8,15) scale(1.05,1)" class="ax" font-size="11.8"><tspan xml:space="preserve">Measurement </tspan><tspan font-style="italic" dx="1.5">M</tspan><tspan font-size="7.8" dy="2" dx="0.6">1</tspan></text>
<text transform="translate(229.0,15) scale(1.05,1)" class="ax" font-size="11.8"><tspan xml:space="preserve">Measurement </tspan><tspan font-style="italic" dx="1.5">M</tspan><tspan font-size="7.8" dy="2" dx="0.6">2</tspan></text>
<text transform="translate(357.0,15) scale(1.05,1)" class="ax" font-size="11.8"><tspan xml:space="preserve">Measurement </tspan><tspan font-style="italic" dx="1.5">M</tspan><tspan font-size="7.8" dy="2" dx="0.6">3</tspan></text>
<text x="505.7" y="15" class="ax" font-size="12.4" text-anchor="middle">…</text>
<text x="53.6" y="30.4" fill="#111" font-size="12.3" text-anchor="start" ><tspan font-style="italic">V</tspan><tspan font-size="8.5" dy="2.0">dc</tspan></text>
<text x="92.6" y="251.0" fill="#a2142f" font-size="12.3" text-anchor="start" ><tspan font-style="italic">V</tspan><tspan font-size="8.5" dy="1.6">ab</tspan></text>
<text x="172.5" y="250.5" fill="#4dbeee" font-size="12.3" text-anchor="start" ><tspan font-style="italic">V</tspan><tspan font-size="8.5" dy="1.6">ca</tspan></text>
<text x="257.6" y="250.5" fill="#77ac30" font-size="12.3" text-anchor="start" ><tspan font-style="italic">V</tspan><tspan font-size="8.5" dy="1.6">bc</tspan></text>
<text transform="translate(47.1,58.7) scale(0.98,1)" class="ax" font-size="11.9" text-anchor="end">250</text>
<text transform="translate(47.1,87.2) scale(0.98,1)" class="ax" font-size="11.9" text-anchor="end">200</text>
<text transform="translate(47.1,115.8) scale(0.98,1)" class="ax" font-size="11.9" text-anchor="end">150</text>
<text transform="translate(47.1,144.3) scale(0.98,1)" class="ax" font-size="11.9" text-anchor="end">100</text>
<text transform="translate(47.1,172.8) scale(0.98,1)" class="ax" font-size="11.9" text-anchor="end">50</text>
<text transform="translate(47.1,201.3) scale(0.98,1)" class="ax" font-size="11.9" text-anchor="end">0</text>
<text transform="translate(47.1,229.9) scale(0.98,1)" class="ax" font-size="11.9" text-anchor="end">−50</text>
<text transform="translate(47.1,258.4) scale(0.98,1)" class="ax" font-size="11.9" text-anchor="end">−100</text>
<text transform="translate(47.1,286.9) scale(0.98,1)" class="ax" font-size="11.9" text-anchor="end">−150</text>
<text transform="translate(47.1,315.5) scale(0.98,1)" class="ax" font-size="11.9" text-anchor="end">−200</text>
<text transform="translate(47.1,344.0) scale(0.98,1)" class="ax" font-size="11.9" text-anchor="end">−250</text>
<text transform="translate(52.3,356) scale(1.07,1)" class="ax" font-size="11.3" text-anchor="middle">0</text>
<text transform="translate(173.2,356) scale(1.07,1)" class="ax" font-size="11.3" text-anchor="middle">10</text>
<text transform="translate(296.1,356) scale(1.07,1)" class="ax" font-size="11.3" text-anchor="middle">20</text>
<text transform="translate(418.5,356) scale(1.07,1)" class="ax" font-size="11.3" text-anchor="middle">30</text>
<text transform="translate(541.0,356) scale(1.07,1)" class="ax" font-size="11.3" text-anchor="middle">40</text>
<text transform="translate(301.5,373) scale(1.05,1)" class="ax" font-size="12.2" text-anchor="middle">Time (ms)</text>
<text transform="translate(13.8,193.8) rotate(-90) scale(1.0,1.05)" class="ax" font-size="12.2" text-anchor="middle">Voltage (V)</text>
<g transform="translate(84.6,154.8) rotate(-90)" class="red"><text transform="scale(0.88,1)" font-size="15" font-style="italic" stroke-width="0.1">V</text><text x="9.3" y="2.1" font-size="9.6">min 1</text></g>
<g transform="translate(125.2,154.8) rotate(-90)" class="red"><text transform="scale(0.88,1)" font-size="15" font-style="italic" stroke-width="0.1">V</text><text x="9.3" y="2.1" font-size="9.6">min 2</text></g>
<g transform="translate(165.6,154.8) rotate(-90)" class="red"><text transform="scale(0.88,1)" font-size="15" font-style="italic" stroke-width="0.1">V</text><text x="9.3" y="2.1" font-size="9.6">min 3</text></g>
<g transform="translate(206.4,154.8) rotate(-90)" class="red"><text transform="scale(0.88,1)" font-size="15" font-style="italic" stroke-width="0.1">V</text><text x="9.3" y="2.1" font-size="9.6">min 4</text></g>
<g transform="translate(105.7,139.0) rotate(-90)" class="teal"><text transform="scale(0.88,1)" font-size="15" font-style="italic" stroke-width="0.1">V</text><text x="9.3" y="2.1" font-size="9.6">max 1</text></g>
<g transform="translate(146.0,139.0) rotate(-90)" class="teal"><text transform="scale(0.88,1)" font-size="15" font-style="italic" stroke-width="0.1">V</text><text x="9.3" y="2.1" font-size="9.6">max 2</text></g>
<g transform="translate(187.0,139.0) rotate(-90)" class="teal"><text transform="scale(0.88,1)" font-size="15" font-style="italic" stroke-width="0.1">V</text><text x="9.3" y="2.1" font-size="9.6">max 3</text></g>
<text x="74.0" y="369.8" class="red" font-size="15"><tspan font-style="italic">t</tspan><tspan font-size="9.8" dy="1.8" dx="0.4">min 1</tspan></text>
<text x="117.8" y="366.5" class="red" font-size="15"><tspan font-style="italic">t</tspan><tspan font-size="9.8" dy="1.8" dx="0.4">min 2</tspan></text>
<text x="158.6" y="367.3" class="red" font-size="15"><tspan font-style="italic">t</tspan><tspan font-size="9.8" dy="1.8" dx="0.4">min 3</tspan></text>
<text x="198.0" y="369.8" class="red" font-size="15"><tspan font-style="italic">t</tspan><tspan font-size="9.8" dy="1.8" dx="0.4">min 4</tspan></text>
<text x="97.2" y="351.0" class="teal" font-size="15"><tspan font-style="italic">t</tspan><tspan font-size="9.8" dy="1.8" dx="0.4">max 1</tspan></text>
<text x="134.2" y="351.0" class="teal" font-size="15"><tspan font-style="italic">t</tspan><tspan font-size="9.8" dy="1.8" dx="0.4">max 2</tspan></text>
<text x="179.6" y="351.0" class="teal" font-size="15"><tspan font-style="italic">t</tspan><tspan font-size="9.8" dy="1.8" dx="0.4">max 3</tspan></text>
<text x="131" y="403.8" class="teal" font-size="14.4" font-style="italic">T/2</text>
<text x="206.6" y="416.9" class="teal" font-size="13.6" font-style="italic">T</text>
</svg>
</body>
</html>
